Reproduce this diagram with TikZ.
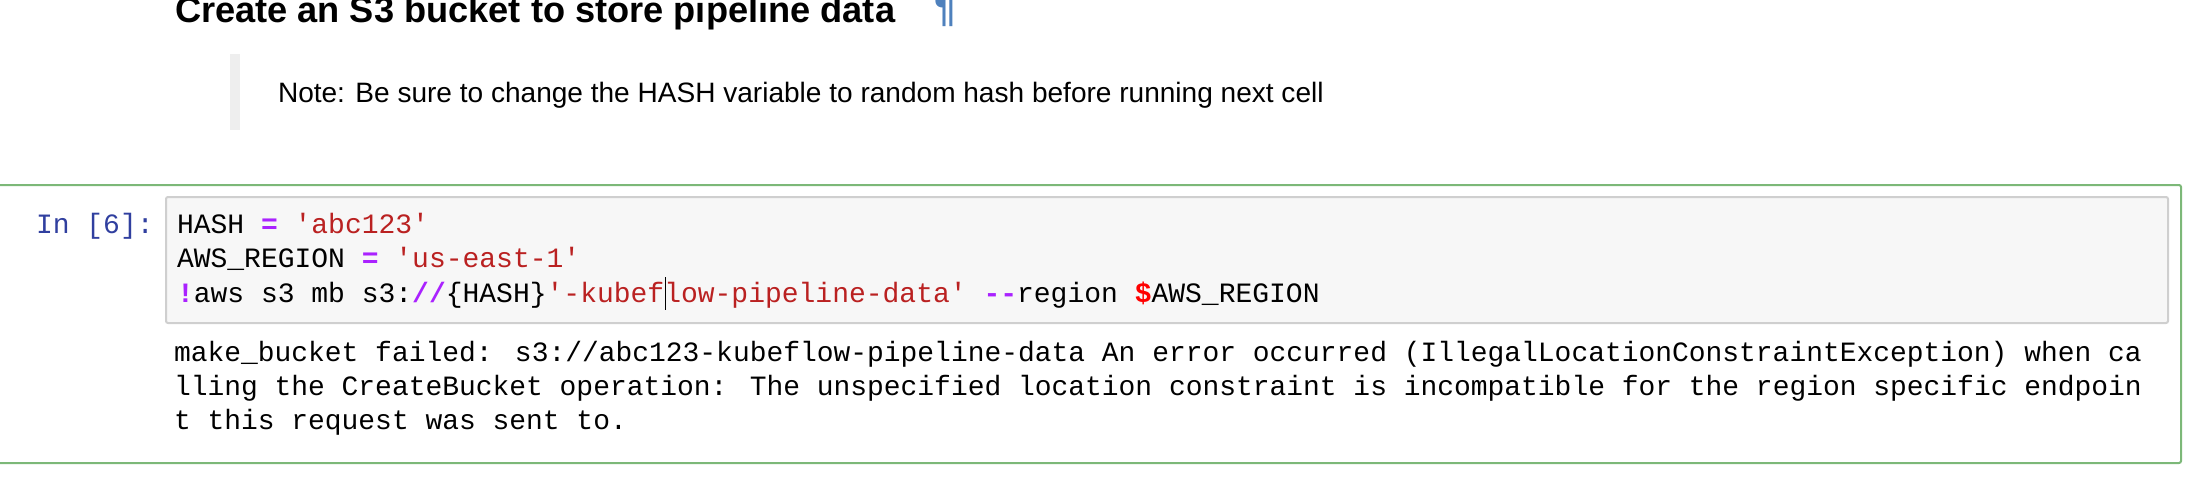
\documentclass[tikz,border=0pt]{standalone}
\usepackage{fontspec}
\setmainfont{Liberation Sans}
\newfontfamily\codefont{Liberation Mono}
\definecolor{cellgreen}{HTML}{7CB878}
\definecolor{codeborder}{HTML}{CFCFCF}
\definecolor{codebg}{HTML}{F7F7F7}
\definecolor{promptblue}{HTML}{303F9F}
\definecolor{kwpurple}{HTML}{AA22FF}
\definecolor{strred}{HTML}{BA2121}
\definecolor{linkblue}{HTML}{4F81BD}
\definecolor{quotebar}{HTML}{EEEEEE}
\newcommand{\us}{\char`\_}
\newcommand{\pur}[1]{\textcolor{kwpurple}{\bfseries #1}}
\newcommand{\str}[1]{\textcolor{strred}{#1}}
\tikzset{
  txt/.style={anchor=base west,inner sep=0pt,outer sep=0pt,text=black},
  code/.style={txt,font=\fontsize{28}{34}\selectfont\codefont},
  output/.style={txt,font=\fontsize{27.95}{34}\selectfont\codefont},
  prompt/.style={code,text=promptblue},
  heading/.style={txt,font=\fontsize{36.2}{44}\selectfont\bfseries},
  pilcrow/.style={anchor=base west,inner sep=0pt,text=linkblue,font=\fontsize{40}{48}\selectfont\bfseries},
  note/.style={txt,font=\fontsize{28.05}{34}\selectfont},
  cellbox/.style={draw=cellgreen,line width=2pt,rounded corners=2pt},
  codebox/.style={draw=codeborder,fill=codebg,line width=2pt,rounded corners=2pt},
}
\begin{document}
\begin{tikzpicture}[x=1pt,y=-1pt]
\useasboundingbox (0,0) rectangle (2204,488);
\clip (0,0) rectangle (2204,488);
\node[heading] (title) at (175,22) {Create an S3 bucket to store pipeline data};
\node[pilcrow] (para) at (934,21) {¶};
\fill[quotebar] (230,54) rectangle (240,130);
\node[note] (notetext) at (278,102) {Note: Be sure to change the HASH variable to random hash before running next cell};
\draw[cellbox] (-10,185) -- (2181,185) -- (2181,463) -- (-10,463);
\draw[codebox] (166,197) rectangle (2168,323);
\node[prompt] (inprompt) at (36,233) {In [6]:};
\node[code] (l1) at (177,233) {HASH \pur{=} \str{'abc123'}};
\node[code] (l2) at (177,267) {AWS\us REGION \pur{=} \str{'us-east-1'}};
\node[code] (l3) at (177,302) {\pur{!}aws s3 mb s3:\pur{//}\{HASH\}\str{'-kubeflow-pipeline-data'} \pur{--}region \textcolor{red}{\bfseries\$}AWS\us REGION};
\draw[black,line width=1pt] (665,277) -- (665,310);
\node[output] (o1) at (174,361) {make\us bucket failed: s3://abc123-kubeflow-pipeline-data An error occurred (IllegalLocationConstraintException) when ca};
\node[output] (o2) at (174,395) {lling the CreateBucket operation: The unspecified location constraint is incompatible for the region specific endpoin};
\node[output] (o3) at (174,429) {t this request was sent to.};
\end{tikzpicture}
\end{document}
